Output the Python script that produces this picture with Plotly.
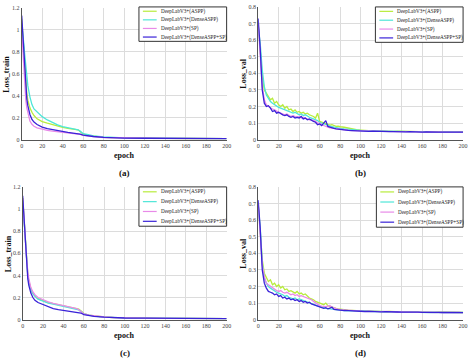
import plotly.graph_objects as go

# ---------------- data ----------------
NAMES = ["DeepLabV3+(ASPP)", "DeepLabV3+(DenseASPP)", "DeepLabV3+(SP)", "DeepLabV3+(DenseASPP+SP)"]
COLORS = ["#b8ec3c", "#4ee6d8", "#e88ae8", "#3a22d8"]

E_TRAIN = [0, 1, 2, 3, 4, 5, 6, 8, 10, 12, 15, 20, 25, 30, 35, 40, 45, 50, 53, 55, 57, 60,
           65, 70, 80, 90, 100, 120, 140, 160, 180, 200]

A_ASPP = [1.10, 0.95, 0.78, 0.62, 0.50, 0.42, 0.36, 0.29, 0.25, 0.22, 0.19, 0.165, 0.15, 0.135, 0.122, 0.112,
          0.104, 0.095, 0.092, 0.09, 0.075, 0.05, 0.04, 0.032, 0.022, 0.018, 0.016, 0.014, 0.012, 0.011, 0.011, 0.01]
A_DENSE = [1.05, 0.98, 0.88, 0.77, 0.66, 0.57, 0.49, 0.39, 0.32, 0.28, 0.25, 0.21, 0.18, 0.155, 0.135, 0.12,
           0.11, 0.10, 0.095, 0.09, 0.078, 0.055, 0.045, 0.035, 0.025, 0.02, 0.017, 0.014, 0.012, 0.011, 0.011, 0.01]
A_SP = [1.00, 0.85, 0.65, 0.48, 0.36, 0.29, 0.24, 0.17, 0.14, 0.122, 0.108, 0.095, 0.085, 0.078, 0.072, 0.066,
        0.062, 0.058, 0.056, 0.053, 0.048, 0.04, 0.033, 0.028, 0.02, 0.017, 0.015, 0.013, 0.012, 0.011, 0.01, 0.01]
A_DSP = [1.13, 0.98, 0.80, 0.60, 0.46, 0.37, 0.31, 0.23, 0.185, 0.16, 0.138, 0.115, 0.1, 0.09, 0.08, 0.072,
         0.066, 0.06, 0.058, 0.055, 0.05, 0.042, 0.035, 0.029, 0.021, 0.017, 0.015, 0.013, 0.012, 0.011, 0.01, 0.01]

C_ASPP = [1.10, 0.97, 0.80, 0.63, 0.50, 0.41, 0.35, 0.28, 0.24, 0.215, 0.19, 0.17, 0.155, 0.145, 0.135, 0.125,
          0.115, 0.105, 0.10, 0.095, 0.08, 0.055, 0.04, 0.033, 0.024, 0.018, 0.016, 0.014, 0.012, 0.011, 0.011, 0.01]
C_DENSE = [1.08, 0.95, 0.78, 0.62, 0.49, 0.40, 0.34, 0.27, 0.235, 0.21, 0.185, 0.165, 0.15, 0.14, 0.13, 0.12,
           0.11, 0.10, 0.095, 0.088, 0.075, 0.052, 0.04, 0.032, 0.023, 0.018, 0.016, 0.014, 0.012, 0.011, 0.011, 0.01]
C_SP = [1.10, 0.98, 0.82, 0.65, 0.52, 0.43, 0.37, 0.29, 0.25, 0.225, 0.2, 0.18, 0.16, 0.148, 0.137, 0.127,
        0.117, 0.108, 0.10, 0.09, 0.075, 0.052, 0.04, 0.033, 0.024, 0.019, 0.016, 0.014, 0.012, 0.011, 0.011, 0.01]
C_DSP = [1.12, 0.95, 0.78, 0.60, 0.46, 0.37, 0.31, 0.24, 0.2, 0.175, 0.155, 0.135, 0.115, 0.10, 0.09, 0.082,
         0.074, 0.068, 0.066, 0.064, 0.06, 0.045, 0.036, 0.03, 0.022, 0.017, 0.015, 0.013, 0.012, 0.011, 0.01, 0.01]

E_VAL = list(range(0, 81, 2)) + list(range(84, 201, 4))

B_ASPP = [0.70, 0.55, 0.38, 0.30, 0.28, 0.26, 0.24, 0.25, 0.22, 0.23, 0.21, 0.20, 0.21, 0.19, 0.20, 0.18, 0.185,
          0.17, 0.18, 0.165, 0.17, 0.16, 0.165, 0.155, 0.16, 0.15, 0.145, 0.14, 0.13, 0.16, 0.11, 0.105, 0.1, 0.095,
          0.09, 0.088, 0.09, 0.085, 0.08, 0.082, 0.078,
          0.075, 0.07, 0.062, 0.06, 0.058, 0.056, 0.055, 0.054, 0.052, 0.053, 0.051, 0.052, 0.05, 0.051, 0.05,
          0.049, 0.05, 0.049, 0.048, 0.049, 0.048, 0.047, 0.048, 0.047, 0.048, 0.047, 0.048, 0.046, 0.047, 0.047]
B_DENSE = [0.68, 0.58, 0.42, 0.32, 0.27, 0.25, 0.23, 0.22, 0.21, 0.20, 0.195, 0.19, 0.185, 0.18, 0.175, 0.17,
           0.165, 0.16, 0.165, 0.155, 0.15, 0.155, 0.145, 0.15, 0.14, 0.135, 0.13, 0.125, 0.12, 0.115, 0.105, 0.1,
           0.095, 0.09, 0.085, 0.08, 0.078, 0.075, 0.072, 0.07, 0.068,
           0.065, 0.062, 0.06, 0.058, 0.056, 0.055, 0.054, 0.053, 0.052, 0.051, 0.05, 0.051, 0.05, 0.049, 0.05,
           0.049, 0.048, 0.049, 0.048, 0.047, 0.048, 0.047, 0.048, 0.046, 0.047, 0.046, 0.047, 0.046, 0.047, 0.046]
B_SP = [0.70, 0.50, 0.32, 0.24, 0.21, 0.20, 0.19, 0.185, 0.18, 0.17, 0.165, 0.16, 0.155, 0.15, 0.155, 0.145, 0.14,
        0.145, 0.14, 0.135, 0.14, 0.13, 0.135, 0.13, 0.125, 0.12, 0.12, 0.115, 0.11, 0.10, 0.1, 0.09, 0.085, 0.08,
        0.075, 0.072, 0.07, 0.068, 0.066, 0.064, 0.062,
        0.06, 0.057, 0.055, 0.054, 0.053, 0.052, 0.051, 0.05, 0.051, 0.05, 0.049, 0.05, 0.049, 0.048, 0.049,
        0.048, 0.047, 0.048, 0.047, 0.048, 0.046, 0.047, 0.046, 0.047, 0.045, 0.046, 0.045, 0.046, 0.045, 0.045]
B_DSP = [0.73, 0.55, 0.30, 0.22, 0.20, 0.205, 0.19, 0.17, 0.175, 0.16, 0.165, 0.155, 0.15, 0.145, 0.15, 0.14,
         0.135, 0.14, 0.13, 0.135, 0.13, 0.14, 0.125, 0.13, 0.12, 0.125, 0.115, 0.11, 0.105, 0.09, 0.095, 0.085,
         0.10, 0.115, 0.08, 0.075, 0.07, 0.068, 0.065, 0.063, 0.06,
         0.058, 0.056, 0.055, 0.053, 0.055, 0.052, 0.05, 0.052, 0.05, 0.049, 0.05, 0.048, 0.049, 0.047, 0.048,
         0.047, 0.048, 0.046, 0.047, 0.046, 0.047, 0.045, 0.046, 0.045, 0.046, 0.045, 0.046, 0.044, 0.045, 0.046]

D_ASPP = [0.70, 0.55, 0.36, 0.28, 0.25, 0.23, 0.24, 0.21, 0.22, 0.20, 0.21, 0.19, 0.20, 0.18, 0.185, 0.17, 0.175,
          0.165, 0.16, 0.17, 0.155, 0.16, 0.15, 0.155, 0.14, 0.13, 0.125, 0.12, 0.11, 0.105, 0.1, 0.095, 0.09, 0.1,
          0.085, 0.08, 0.075, 0.07, 0.068, 0.065, 0.062,
          0.06, 0.057, 0.055, 0.054, 0.052, 0.051, 0.052, 0.05, 0.049, 0.05, 0.048, 0.049, 0.047, 0.048, 0.046,
          0.047, 0.046, 0.045, 0.046, 0.045, 0.044, 0.045, 0.044, 0.045, 0.044, 0.043, 0.044, 0.043, 0.044, 0.043]
D_DENSE = [0.68, 0.56, 0.34, 0.25, 0.22, 0.20, 0.19, 0.18, 0.175, 0.165, 0.16, 0.155, 0.15, 0.14, 0.145, 0.135,
           0.13, 0.125, 0.13, 0.12, 0.125, 0.12, 0.115, 0.11, 0.105, 0.1, 0.095, 0.09, 0.085, 0.082, 0.078, 0.075,
           0.07, 0.068, 0.066, 0.064, 0.062, 0.06, 0.059, 0.058, 0.057,
           0.055, 0.054, 0.052, 0.051, 0.05, 0.05, 0.049, 0.048, 0.049, 0.047, 0.048, 0.047, 0.046, 0.047, 0.046,
           0.045, 0.046, 0.045, 0.044, 0.045, 0.044, 0.043, 0.044, 0.043, 0.044, 0.043, 0.042, 0.043, 0.042, 0.043]
D_SP = [0.70, 0.52, 0.33, 0.26, 0.22, 0.21, 0.2, 0.19, 0.185, 0.175, 0.17, 0.175, 0.165, 0.16, 0.165, 0.155, 0.15,
        0.155, 0.145, 0.15, 0.14, 0.145, 0.14, 0.135, 0.13, 0.125, 0.12, 0.11, 0.1, 0.09, 0.085, 0.082, 0.08, 0.078,
        0.082, 0.085, 0.075, 0.07, 0.066, 0.063, 0.06,
        0.058, 0.056, 0.054, 0.053, 0.052, 0.05, 0.051, 0.049, 0.05, 0.048, 0.049, 0.047, 0.048, 0.046, 0.047,
        0.046, 0.045, 0.046, 0.045, 0.044, 0.045, 0.044, 0.043, 0.044, 0.043, 0.042, 0.043, 0.042, 0.043, 0.042]
D_DSP = [0.72, 0.55, 0.30, 0.22, 0.19, 0.17, 0.165, 0.16, 0.15, 0.155, 0.14, 0.145, 0.13, 0.135, 0.125, 0.13,
         0.12, 0.125, 0.115, 0.12, 0.11, 0.115, 0.105, 0.11, 0.10, 0.105, 0.095, 0.09, 0.085, 0.08, 0.075, 0.07,
         0.068, 0.072, 0.065, 0.07, 0.075, 0.062, 0.06, 0.058, 0.057,
         0.055, 0.054, 0.052, 0.051, 0.05, 0.049, 0.05, 0.048, 0.049, 0.047, 0.048, 0.046, 0.047, 0.046, 0.045,
         0.046, 0.045, 0.044, 0.045, 0.044, 0.045, 0.044, 0.043, 0.044, 0.043, 0.044, 0.043, 0.042, 0.043, 0.042]

X_TICKS = [0, 20, 40, 60, 80, 100, 120, 140, 160, 180, 200]
Y_TICKS_TRAIN = [0, 0.2, 0.4, 0.6, 0.8, 1, 1.2]
Y_TICKS_VAL = [0, 0.1, 0.2, 0.3, 0.4, 0.5, 0.6, 0.7, 0.8]

PANELS = [
    dict(label="(a)", ytitle="Loss_train", x=E_TRAIN, series=[A_ASPP, A_DENSE, A_SP, A_DSP],
         yt=Y_TICKS_TRAIN, ymax=1.2),
    dict(label="(b)", ytitle="Loss_val", x=E_VAL, series=[B_ASPP, B_DENSE, B_SP, B_DSP],
         yt=Y_TICKS_VAL, ymax=0.8),
    dict(label="(c)", ytitle="Loss_train", x=E_TRAIN, series=[C_ASPP, C_DENSE, C_SP, C_DSP],
         yt=Y_TICKS_TRAIN, ymax=1.2),
    dict(label="(d)", ytitle="Loss_val", x=E_VAL, series=[D_ASPP, D_DENSE, D_SP, D_DSP],
         yt=Y_TICKS_VAL, ymax=0.8),
]

# ---------------- layout geometry (pixels) ----------------
W, H = 474, 361
# plot-area boxes: left, right, top, bottom (px)
BOXES = [(20, 228, 5, 139), (260, 468, 4, 139), (21, 228, 187, 322), (260, 468, 187, 322)]
# legend boxes: left, right, top, bottom (px)
LEG = [(139, 228, 4, 39), (379, 468, 4, 40), (139, 228, 187, 227), (380, 468, 187, 228)]

SERIF = "Liberation Serif, Times New Roman, serif"


def px(x):
    return x / W


def py(y):
    return 1 - y / H


fig = go.Figure()
shapes = []
annotations = []


def label(text, x, y, size, angle=0, xanchor="center", color="#111"):
    annotations.append(dict(text=text, x=px(x), y=py(y), xref="paper", yref="paper",
                            xanchor=xanchor, yanchor="middle", showarrow=False, textangle=angle,
                            font=dict(family=SERIF, size=size, color=color)))


for i, p in enumerate(PANELS):
    n = "" if i == 0 else str(i + 1)
    xa, ya = "x" + n, "y" + n
    l, r, t, b = BOXES[i]
    for k in range(4):
        fig.add_trace(go.Scatter(x=p["x"], y=p["series"][k], mode="lines", name=NAMES[k],
                                 line=dict(color=COLORS[k], width=1.3), xaxis=xa, yaxis=ya,
                                 showlegend=False))
    axcommon = dict(showgrid=True, gridcolor="#dcdcdc", gridwidth=1, zeroline=False,
                    showline=True, linecolor="#555", linewidth=1, mirror=False,
                    ticks="", tickfont=dict(family=SERIF, size=6, color="#444"))
    fig.layout["xaxis" + n] = dict(axcommon, domain=[px(l), px(r)], range=[0, 200],
                                   tickvals=X_TICKS, anchor=ya)
    fig.layout["yaxis" + n] = dict(axcommon, domain=[py(b), py(t)], range=[0, p["ymax"]],
                                   tickvals=p["yt"], anchor=xa)
    # titles
    label("<b>epoch</b>", (l + r) / 2, b + 16, 8)
    label("<b>%s</b>" % p["ytitle"], l - 15, (t + b) / 2, 8, angle=-90)
    label("<b>%s</b>" % p["label"], (l + r) / 2, b + 34, 9)
    # legend (drawn as a boxed key)
    ll, lr, lt, lb = LEG[i]
    shapes.append(dict(type="rect", xref="paper", yref="paper", x0=px(ll), x1=px(lr), y0=py(lb),
                       y1=py(lt), line=dict(color="#333", width=1), fillcolor="white", layer="above"))
    step = (lb - lt) / 4.0
    for k in range(4):
        yy = lt + step * (k + 0.5)
        shapes.append(dict(type="line", xref="paper", yref="paper", x0=px(ll + 4), x1=px(ll + 18),
                           y0=py(yy), y1=py(yy), line=dict(color=COLORS[k], width=1.2), layer="above"))
        label(NAMES[k], ll + 20, yy, 5.2, xanchor="left", color="#222")

fig.update_layout(width=W, height=H, margin=dict(l=0, r=0, t=0, b=0), paper_bgcolor="white",
                  plot_bgcolor="white", shapes=shapes, annotations=annotations, showlegend=False)

fig.write_html("out.html", config={"displayModeBar": False},
               post_script="document.body.style.margin='0';document.body.style.padding='0';")
